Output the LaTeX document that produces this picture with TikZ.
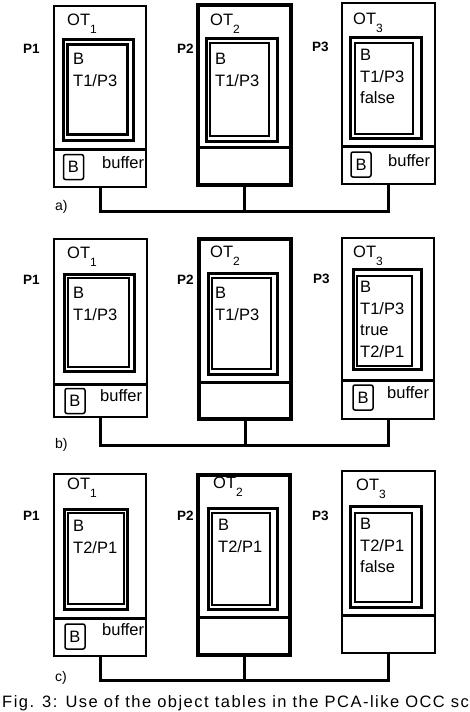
\documentclass[tikz,border=0pt]{standalone}
\usepackage{fontspec}
\setmainfont{Liberation Sans}
\newfontfamily\capfont[LetterSpace=9]{Liberation Sans}

\newcommand{\otname}[1]{OT\raisebox{-8pt}{\fontsize{12}{12}\selectfont #1}}

\tikzset{
  procbox/.style={draw, line width=2.5pt, anchor=north west, inner sep=0pt, outer sep=0pt},
  procthick/.style={procbox, line width=4pt},
  sepline/.style={line width=3pt},
  tabout/.style={line width=3pt},
  tabin/.style={line width=2.4pt},
  bufbox/.style={draw, line width=1.5pt, rounded corners=2pt, minimum width=20pt, minimum height=25pt, inner sep=0pt, font=\fontsize{16.5}{18}\selectfont},
  tabtext/.style={anchor=north west, align=left, inner sep=0pt, yshift=11.8pt, font=\fontsize{16.5}{21.5}\selectfont},
  txt/.style={anchor=base west, inner sep=0pt, font=\fontsize{16.5}{18}\selectfont},
  plabel/.style={anchor=base west, inner sep=0pt, font=\bfseries\fontsize{13.5}{16}\selectfont},
  sublabel/.style={anchor=base west, inner sep=0pt, font=\fontsize{14}{16}\selectfont},
  bus/.style={line width=3pt}
}

\begin{document}
\begin{tikzpicture}[x=1pt, y=-1pt]
    \useasboundingbox (0,0) rectangle (470,712);

    % a)
    \node[procbox, minimum width=92pt, minimum height=181pt] (p1a) at (54,6) {};
    \node[procthick, minimum width=93pt, minimum height=180pt] (p2a) at (198,5) {};
    \node[procbox, minimum width=93pt, minimum height=181pt] (p3a) at (342,3) {};
    \draw[sepline] (54,149) -- (146,149);
    \draw[sepline] (198,147) -- (291,147);
    \draw[sepline] (342,146) -- (435,146);
    \draw[tabout] (63.5,39.5) rectangle (133.5,140.5);
    \draw[tabin] (67.5,44.5) rectangle (127.5,134.5);
    \draw[tabout] (206,38) rectangle (277,141);
    \draw[tabin] (210,43) rectangle (269,136);
    \draw[tabout] (350,37) rectangle (421,138);
    \draw[tabin] (355,43) rectangle (413,134);
    \node[plabel] (lp1a) at (23,53) {P1};
    \node[plabel] (lp2a) at (177,53) {P2};
    \node[plabel] (lp3a) at (312,51) {P3};
    \node[txt] (ot1a) at (67,25) {\otname{1}};
    \node[txt] (ot2a) at (210,25) {\otname{2}};
    \node[txt] (ot3a) at (353,24) {\otname{3}};
    \node[tabtext] (t1a) at (73,65) {B\\T1/P3};
    \node[tabtext] (t2a) at (215,65) {B\\T1/P3};
    \node[tabtext] (t3a) at (360,61) {B\\T1/P3\\false};
    \node[bufbox] (b1a) at (73.5,167) {B};
    \node[txt] (bl1a) at (102,168) {buffer};
    \node[bufbox] (b3a) at (361,164.5) {B};
    \node[txt] (bl3a) at (388,166) {buffer};
    \node[sublabel] (capa) at (55,210) {a)};
    \coordinate (busa) at (0,211);
    \draw[bus] (p1a.south) -- (p1a.south |- busa) -| (p3a.south);
    \draw[bus] (p2a.south) -- (p2a.south |- busa);

    % b)
    \node[procbox, minimum width=93pt, minimum height=178pt] (p1b) at (54,239) {};
    \node[procthick, minimum width=92pt, minimum height=180pt] (p2b) at (199,239) {};
    \node[procbox, minimum width=92pt, minimum height=181pt] (p3b) at (342,238) {};
    \draw[sepline] (54,384) -- (147,384);
    \draw[sepline] (199,382) -- (291,382);
    \draw[sepline] (342,380) -- (434,380);
    \draw[tabout] (64,274) rectangle (134,371);
    \draw[tabin] (68,278) rectangle (129,367);
    \draw[tabout] (208,273) rectangle (277,374);
    \draw[tabin] (212,278) rectangle (271,369);
    \draw[tabout] (353,269) rectangle (421,369);
    \draw[tabin] (357,276) rectangle (412,366);
    \node[plabel] (lp1b) at (23,284) {P1};
    \node[plabel] (lp2b) at (177,284) {P2};
    \node[plabel] (lp3b) at (313,283) {P3};
    \node[txt] (ot1b) at (67,258) {\otname{1}};
    \node[txt] (ot2b) at (210,257) {\otname{2}};
    \node[txt] (ot3b) at (353,257) {\otname{3}};
    \node[tabtext] (t1b) at (73,299) {B\\T1/P3};
    \node[tabtext] (t2b) at (215,299) {B\\T1/P3};
    \node[tabtext] (t3b) at (360,293) {B\\T1/P3\\true\\T2/P1};
    \node[bufbox] (b1b) at (75,401) {B};
    \node[txt] (bl1b) at (100,401) {buffer};
    \node[bufbox] (b3b) at (363,397.5) {B};
    \node[txt] (bl3b) at (387,398) {buffer};
    \node[sublabel] (capb) at (55,448) {b)};
    \coordinate (busb) at (0,445);
    \draw[bus] (p1b.south) -- (p1b.south |- busb) -| (p3b.south);
    \draw[bus] (p2b.south) -- (p2b.south |- busb);

    % c)
    \node[procbox, minimum width=92pt, minimum height=182pt] (p1c) at (54,474) {};
    \node[procthick, minimum width=92pt, minimum height=180pt] (p2c) at (198,475) {};
    \node[procbox, minimum width=93pt, minimum height=182pt] (p3c) at (342,471) {};
    \draw[sepline] (54,618) -- (146,618);
    \draw[sepline] (198,617) -- (290,617);
    \draw[sepline] (342,615) -- (435,615);
    \draw[tabout] (64,509) rectangle (127,609);
    \draw[tabin] (68,513) rectangle (124,604);
    \draw[tabout] (208,508) rectangle (277,609);
    \draw[tabin] (212,513) rectangle (270,605);
    \draw[tabout] (350,506) rectangle (421,607);
    \draw[tabin] (355,513) rectangle (412,602);
    \node[plabel] (lp1c) at (23,520) {P1};
    \node[plabel] (lp2c) at (177,520) {P2};
    \node[plabel] (lp3c) at (312,520) {P3};
    \node[txt] (ot1c) at (67,489) {\otname{1}};
    \node[txt] (ot2c) at (213,488) {\otname{2}};
    \node[txt] (ot3c) at (356,490) {\otname{3}};
    \node[tabtext] (t1c) at (73,532) {B\\T2/P1};
    \node[tabtext] (t2c) at (218,531) {B\\T2/P1};
    \node[tabtext] (t3c) at (360,530) {B\\T2/P1\\false};
    \node[bufbox] (b1c) at (75,636.5) {B};
    \node[txt] (bl1c) at (102,635) {buffer};
    \node[sublabel] (capc) at (55,681) {c)};
    \coordinate (busc) at (0,680);
    \draw[bus] (p1c.south) -- (p1c.south |- busc) -| (p3c.south);
    \draw[bus] (p2c.south) -- (p2c.south |- busc);

    \node[anchor=base west, inner sep=0pt, font=\capfont\fontsize{16.5}{18}\selectfont] (fig) at (2,707) {Fig. 3: Use of the object tables in the PCA-like OCC sc};
\end{tikzpicture}
\end{document}
